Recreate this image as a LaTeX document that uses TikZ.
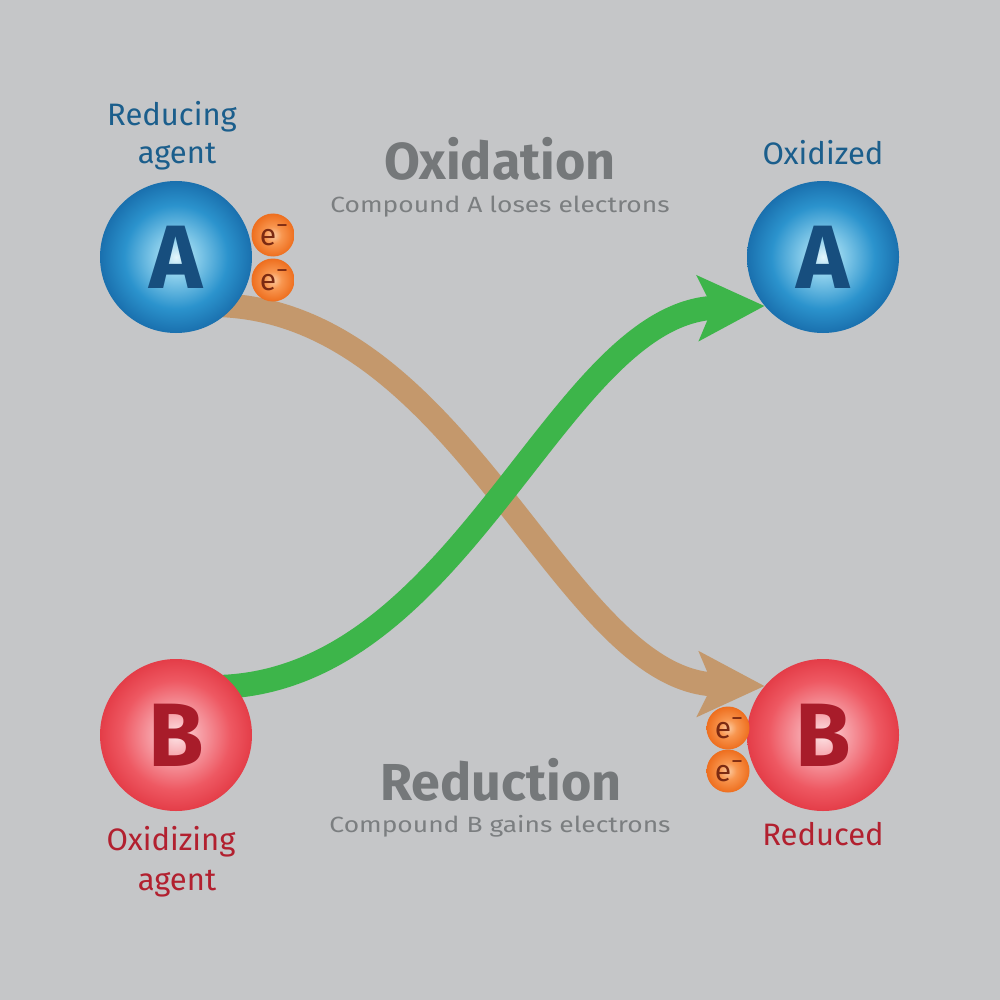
\documentclass[tikz,border=0pt]{standalone}
\usepackage{fontspec}
\setmainfont{Fira Sans}
\usetikzlibrary{arrows.meta}
\pgfdeclarelayer{bg}
\pgfsetlayers{bg,main}
\definecolor{bgc}{RGB}{197,198,200}
\definecolor{lblblue}{HTML}{1B5E8C}
\definecolor{lblred}{HTML}{B2202F}
\definecolor{titlegray}{HTML}{75787A}
\definecolor{subgray}{HTML}{7B7E80}
\definecolor{arrgreen}{HTML}{3DB54A}
\definecolor{arrbrown}{HTML}{C4986C}
\definecolor{etext}{HTML}{7B2A12}
\definecolor{Aletter}{HTML}{174E7E}
\definecolor{Bletter}{HTML}{A81C2A}
\definecolor{Ac0}{HTML}{E4F6FC}
\definecolor{Ac1}{HTML}{8ED0EC}
\definecolor{Ac2}{HTML}{2B93CD}
\definecolor{Ac3}{HTML}{1A70AE}
\definecolor{Bc0}{HTML}{FDE4E6}
\definecolor{Bc1}{HTML}{F7A5AC}
\definecolor{Bc2}{HTML}{EE5862}
\definecolor{Bc3}{HTML}{E43D48}
\definecolor{Ec0}{HTML}{FCCBA2}
\definecolor{Ec1}{HTML}{F8964F}
\definecolor{Ec2}{HTML}{EE6E1E}
\pgfdeclareradialshading{ballA}{\pgfpoint{0bp}{0bp}}{color(0bp)=(Ac0); color(6bp)=(Ac1); color(17bp)=(Ac2); color(25bp)=(Ac3); color(50bp)=(Ac3)}
\pgfdeclareradialshading{ballB}{\pgfpoint{0bp}{0bp}}{color(0bp)=(Bc0); color(7bp)=(Bc1); color(18bp)=(Bc2); color(25bp)=(Bc3); color(50bp)=(Bc3)}
\pgfdeclareradialshading{ballE}{\pgfpoint{0bp}{0bp}}{color(0bp)=(Ec0); color(10bp)=(Ec1); color(25bp)=(Ec2); color(50bp)=(Ec2)}
\begin{document}
\begin{tikzpicture}[x=1pt,y=-1pt,
  sphA/.style={circle, minimum size=152pt, inner sep=0pt, shading=ballA, text=Aletter, font=\fontsize{90}{90}\selectfont\bfseries},
  sphB/.style={circle, minimum size=152pt, inner sep=0pt, shading=ballB, text=Bletter, font=\fontsize{90}{90}\selectfont\bfseries},
  elec/.style={circle, minimum size=43pt, inner sep=0pt, shading=ballE, text=etext, font=\fontsize{30}{30}\selectfont},
  lblA/.style={anchor=base, text=lblblue, font=\fontsize{31}{36}\selectfont, inner sep=0pt},
  lblB/.style={anchor=base, text=lblred, font=\fontsize{31}{36}\selectfont, inner sep=0pt},
  ttl/.style={anchor=base, text=titlegray, font=\fontsize{52}{60}\selectfont\bfseries, inner sep=0pt},
  subt/.style={anchor=base, text=subgray, font=\fontsize{22}{26}\selectfont, inner sep=0pt},
  flowarrow/.style={line width=24pt, -{Stealth[length=66pt, width=64pt, inset=14pt]}}
]
\begin{pgfonlayer}{bg}
\fill[bgc] (0,0) rectangle (1000,1000);
\end{pgfonlayer}
\useasboundingbox (0,0) rectangle (1000,1000);

% spheres
\node[sphA] (A1) at (176,257) {A};
\node[sphA] (A2) at (823,257) {A};
\node[sphB] (B1) at (176,735) {B};
\node[sphB] (B2) at (823,735) {B};

% electrons
\newcommand{\elminus}{\hspace{2pt}e\raisebox{0.40em}{\fontsize{24}{24}\selectfont −}}
\node[elec] (e1) at (273,235) {\elminus};
\node[elec] (e2) at (273,280) {\elminus};
\node[elec] (e3) at (728,728) {\elminus};
\node[elec] (e4) at (728,771) {\elminus};

% labels
\node[lblA] (tA1) at (172,126) {Reducing};
\node[lblA] (tA2) at (177,164) {agent};
\node[lblA] (tA3) at (823,165) {Oxidized};
\node[lblB] (tB1) at (171,850) {Oxidizing};
\node[lblB] (tB2) at (177,890) {agent};
\node[lblB] (tB3) at (823,845) {Reduced};
\node[ttl] (ox) at (500,180) {Oxidation};
\node[subt] (oxs) at (500,213) {\scalebox{1.2}[1]{Compound A loses electrons}};
\node[ttl] (rd) at (501,800) {Reduction};
\node[subt] (rds) at (500,832) {\scalebox{1.2}[1]{Compound B gains electrons}};

% arrows
\begin{pgfonlayer}{bg}
\draw[flowarrow, arrbrown] ([shift={(30,48)}]A1.center) .. controls (460,300) and (560,680) .. (B2.140);
\draw[flowarrow, arrgreen] ([shift={(30,-48)}]B1.center) .. controls (460,693) and (555,313) .. (A2.220);
\end{pgfonlayer}
\end{tikzpicture}
\end{document}
